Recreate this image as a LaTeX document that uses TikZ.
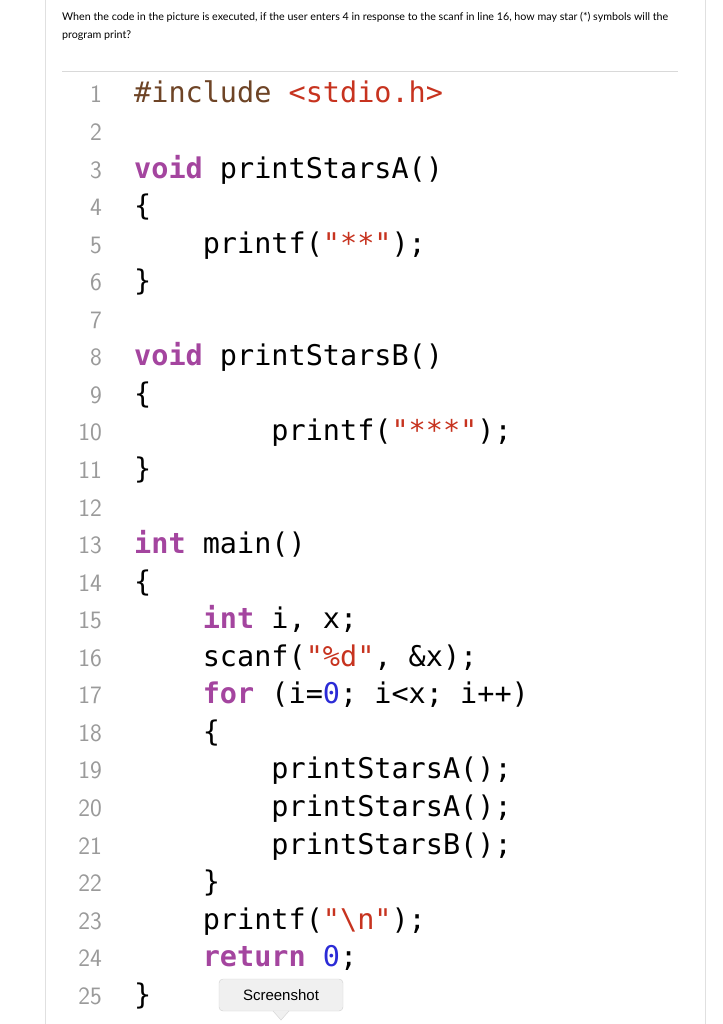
\documentclass[tikz,border=0pt]{standalone}
\usepackage{fontspec}
\setmainfont{Lato}
\setmonofont{DejaVu Sans Mono}
\newfontfamily\tipfont{Liberation Sans}
\definecolor{kwc}{HTML}{A4459F}
\definecolor{stc}{HTML}{C7331F}
\definecolor{nmc}{HTML}{2B2BD6}
\definecolor{inc}{HTML}{6E4426}
\definecolor{lnc}{HTML}{9A9A9A}
\newcommand{\kwd}[1]{\textcolor{kwc}{\bfseries #1}}
\newcommand{\strg}[1]{\textcolor{stc}{#1}}
\newcommand{\numb}[1]{\textcolor{nmc}{#1}}
\tikzset{
 codeline/.style={anchor=base west,inner sep=0pt,font=\fontsize{28.5}{30}\ttfamily},
 lnum/.style={anchor=base east,inner sep=0pt,text=lnc,font=\fontsize{25}{27}\sffamily},
}
\begin{document}
\begin{tikzpicture}[x=1pt,y=-1pt]
\useasboundingbox (0,0) rectangle (722,1024);
\fill[white] (0,0) rectangle (722,1024);
\draw[black!12] (45.5,-2) -- (45.5,1026);
\draw[black!12] (705.5,-2) -- (705.5,1026);
\node[anchor=base west,inner sep=0pt,font=\fontsize{10.7}{12}\selectfont] (q1) at (62,21) {When the code in the picture is executed, if the user enters 4 in response to the scanf in line 16, how may star (*) symbols will the};
\node[anchor=base west,inner sep=0pt,font=\fontsize{10.7}{12}\selectfont] (q2) at (62,39) {program print?};
\draw[black!15] (62,71.5) -- (678,71.5);
\foreach \k in {1,...,25}{
 \node[lnum] (n\k) at (102,{103+(\k-1)*37.55}) {\k};
}
\def\Y#1{{103+(#1-1)*37.55}}
\node[codeline] (c1) at (134,\Y{1}) {\textcolor{inc}{\#include} \strg{<stdio.h>}};
\node[codeline] (c3) at (134,\Y{3}) {\kwd{void} printStarsA()};
\node[codeline] (c4) at (134,\Y{4}) {\{};
\node[codeline] (c5) at (134,\Y{5}) {\ \ \ \ printf(\strg{"**"});};
\node[codeline] (c6) at (134,\Y{6}) {\}};
\node[codeline] (c8) at (134,\Y{8}) {\kwd{void} printStarsB()};
\node[codeline] (c9) at (134,\Y{9}) {\{};
\node[codeline] (c10) at (134,\Y{10}) {\ \ \ \ \ \ \ \ printf(\strg{"***"});};
\node[codeline] (c11) at (134,\Y{11}) {\}};
\node[codeline] (c13) at (134,\Y{13}) {\kwd{int} main()};
\node[codeline] (c14) at (134,\Y{14}) {\{};
\node[codeline] (c15) at (134,\Y{15}) {\ \ \ \ \kwd{int} i, x;};
\node[codeline] (c16) at (134,\Y{16}) {\ \ \ \ scanf(\strg{"\%d"}, \&x);};
\node[codeline] (c17) at (134,\Y{17}) {\ \ \ \ \kwd{for} (i=\numb{0}; i<x; i++)};
\node[codeline] (c18) at (134,\Y{18}) {\ \ \ \ \{};
\node[codeline] (c19) at (134,\Y{19}) {\ \ \ \ \ \ \ \ printStarsA();};
\node[codeline] (c20) at (134,\Y{20}) {\ \ \ \ \ \ \ \ printStarsA();};
\node[codeline] (c21) at (134,\Y{21}) {\ \ \ \ \ \ \ \ printStarsB();};
\node[codeline] (c22) at (134,\Y{22}) {\ \ \ \ \}};
\node[codeline] (c23) at (134,\Y{23}) {\ \ \ \ printf(\strg{"\textbackslash n"});};
\node[codeline] (c24) at (134,\Y{24}) {\ \ \ \ \kwd{return} \numb{0};};
\node[codeline] (c25) at (134,\Y{25}) {\}};
\draw[black!18,fill=black!6,rounded corners=4pt] (219,979) rectangle (343,1011);
\draw[black!18,fill=black!6] (273,1011) -- (281,1020) -- (289,1011);
\node[inner sep=0pt,font=\fontsize{15}{17}\tipfont] (tip) at (281,995) {Screenshot};
\end{tikzpicture}
\end{document}
